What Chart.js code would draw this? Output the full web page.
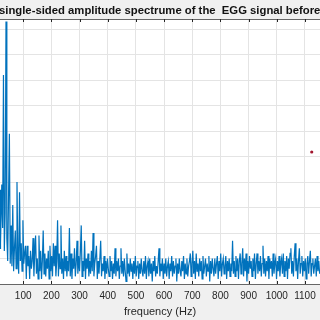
<!DOCTYPE html>
<html lang="en">
<head>
  <meta charset="UTF-8" />
  <title>EGG single-sided amplitude spectrum</title>
  <script src="https://cdn.jsdelivr.net/npm/chart.js"></script>
  <style>
    html, body {
      margin: 0;
      padding: 0;
      background: #f0f0f0;
      overflow: hidden;
    }
    #wrap { position: relative; width: 320px; height: 320px; }
  </style>
</head>
<body>
  <div id="wrap"><canvas id="spec" width="320" height="320"></canvas></div>

  <script>
    const titleText = 'single-sided amplitude spectrume of the  EGG signal before';
    const xLabel = 'frequency (Hz)';
    const xTicks = [100, 200, 300, 400, 500, 600, 700, 800, 900, 1000, 1100];
    const yGrid = [0, 1, 2, 3, 4, 5, 6, 7, 8, 9, 10];

    // frequency bins are 3 Hz apart, starting at 0 Hz
    const freqStep = 3;
    const amplitude = [
      2.0, 1.2, 2.5, 1.0, 3.0, 1.4, 3.7, 1.6, 3.9, 2.2, 8.2, 1.3, 2.8, 10.3, 1.8, 0.9, 3.4, 5.9, 0.8, 2.3,
      0.7, 3.1, 0.5, 1.4, 2.1, 0.6, 4.0, 1.1, 0.4, 3.6, 0.9, 1.6, 0.5, 2.5, 0.8, 1.2, 1.5, 0.2, 1.5, 0.7,
      1.1, 0.2, 1.3, 0.6, 0.9, 1.8, 0.3, 1.2, 1.9, 0.4, 1.0, 0.2, 1.9, 0.5, 1.3, 0.2, 0.9, 2.1, 0.4, 1.2,
      0.3, 1.0, 0.6, 1.3, 0.2, 1.5, 0.5, 1.1, 0.3, 1.6, 0.7, 1.5, 0.3, 0.9, 2.5, 0.3, 1.2, 0.6, 2.3, 0.4,
      1.0, 0.2, 1.3, 0.5, 1.1, 0.3, 0.9, 0.5, 2.2, 0.3, 1.2, 0.2, 1.0, 0.6, 1.4, 0.3, 0.8, 1.7, 0.4, 1.1,
      0.5, 1.3, 2.3, 0.3, 0.9, 0.5, 1.7, 0.2, 1.0, 0.6, 1.2, 0.3, 0.9, 0.4, 1.3, 0.5, 2.0, 0.3, 0.8, 1.1,
      1.5, 0.2, 0.9, 0.4, 1.0, 1.7, 0.3, 0.8, 0.5, 1.1, 0.2, 0.9, 0.4, 1.0, 0.6, 0.3, 1.1, 0.5, 0.9, 0.2,
      0.8, 0.4, 1.4, 0.3, 0.9, 0.5, 1.0, 0.2, 0.7, 1.4, 0.4, 0.9, 0.3, 1.0, 0.5, 0.1, 1.2, 0.4, 0.8, 0.3,
      1.0, 0.5, 0.8, 0.2, 0.9, 0.4, 1.1, 0.3, 0.7, 0.9, 0.2, 0.8, 0.4, 1.0, 0.5, 0.3, 0.9, 0.4, 1.1, 0.2,
      0.7, 0.9, 0.3, 1.0, 0.4, 0.8, 0.1, 0.9, 0.5, 1.1, 0.3, 0.7, 0.4, 0.9, 1.4, 0.3, 0.8, 0.5, 1.0, 0.2,
      0.8, 0.4, 1.0, 0.3, 0.7, 0.9, 0.2, 0.8, 0.5, 1.1, 0.3, 0.9, 0.4, 0.7, 1.0, 0.1, 0.8, 0.4, 1.0, 0.5,
      0.3, 0.9, 0.5, 1.1, 0.2, 0.8, 0.4, 1.0, 0.3, 0.7, 0.9, 1.2, 0.3, 0.8, 1.3, 0.4, 0.9, 0.2, 1.2, 0.5,
      0.8, 0.3, 1.0, 0.5, 0.9, 0.2, 1.1, 0.4, 0.7, 1.0, 0.3, 0.8, 0.5, 1.1, 0.1, 0.9, 0.4, 1.0, 0.6, 0.3,
      1.0, 0.4, 0.8, 1.1, 0.2, 0.9, 0.5, 1.2, 0.3, 0.8, 1.0, 0.4, 0.7, 1.1, 0.2, 0.9, 0.5, 1.0, 0.3, 0.8,
      0.5, 1.7, 0.4, 0.9, 0.3, 1.1, 0.5, 1.0, 0.2, 0.9, 1.2, 0.4, 0.8, 1.4, 0.3, 1.0, 0.5, 1.2, 0.1, 0.9,
      0.4, 1.1, 0.6, 0.9, 0.3, 1.0, 0.5, 1.2, 0.2, 0.8, 1.2, 0.4, 0.9, 0.5, 1.1, 0.3, 0.8, 1.5, 0.4, 1.0,
      0.3, 0.9, 0.5, 1.1, 0.2, 1.0, 0.6, 0.9, 0.3, 1.2, 0.4, 0.8, 1.0, 0.2, 0.9, 0.5, 1.1, 0.3, 0.8, 1.0,
      0.4, 1.2, 0.3, 0.9, 0.5, 1.1, 0.2, 1.0, 0.6, 1.2, 1.4, 0.4, 0.9, 0.3, 1.1, 1.6, 0.5, 1.0, 0.2, 0.9,
      1.4, 0.4, 0.8, 1.1, 0.3, 0.9, 0.5, 1.0, 0.2, 0.8, 1.1, 0.4, 0.9, 1.3, 0.3, 0.8, 1.0, 0.4, 0.7, 1.0,
      0.3, 1.1, 0.5, 0.9, 0.4
    ];
    const markerFreq = [1124];
    const markerAmp = [5.18];

    const specPoints = amplitude.map((v, i) => ({ x: i * freqStep, y: v }));
    const markerPoints = markerFreq.map((f, i) => ({ x: f, y: markerAmp[i] }));

    // white axes box, MATLAB style frame with inward ticks, and the clipped title
    const frame = {
      id: 'frame',
      beforeDraw(chart) {
        const { ctx, chartArea: a } = chart;
        ctx.save();
        ctx.fillStyle = '#ffffff';
        ctx.fillRect(a.left, a.top, a.right - a.left, a.bottom - a.top);
        ctx.fillStyle = '#111111';
        ctx.font = 'bold 11.3px "Liberation Sans", Arial, sans-serif';
        ctx.textBaseline = 'alphabetic';
        ctx.fillText(titleText, -1, 14);
        ctx.restore();
      },
      afterDraw(chart) {
        const { ctx, chartArea: a } = chart;
        const xs = chart.scales.x;
        ctx.save();
        ctx.strokeStyle = '#666666';
        ctx.lineWidth = 1;
        ctx.beginPath();
        ctx.moveTo(a.left, a.top + 0.5);
        ctx.lineTo(a.right, a.top + 0.5);
        ctx.stroke();
        ctx.strokeStyle = '#262626';
        ctx.beginPath();
        xTicks.forEach(v => {
          const px = Math.round(xs.getPixelForValue(v)) + 0.5;
          ctx.moveTo(px, a.top);
          ctx.lineTo(px, a.top + 3);
          ctx.moveTo(px, a.bottom);
          ctx.lineTo(px, a.bottom - 3);
        });
        ctx.stroke();
        ctx.restore();
      }
    };

    new Chart(document.getElementById('spec'), {
      type: 'line',
      data: {
        datasets: [
          {
            label: 'spectrum',
            data: specPoints,
            borderColor: '#0072BD',
            borderWidth: 1.2,
            pointRadius: 0,
            tension: 0,
            fill: false
          },
          {
            type: 'scatter',
            label: 'marker',
            data: markerPoints,
            backgroundColor: '#a3162e',
            borderWidth: 0,
            pointRadius: 1.6
          }
        ]
      },
      options: {
        responsive: false,
        animation: false,
        devicePixelRatio: 1,
        layout: { autoPadding: false, padding: { top: 19, left: 0, right: 0, bottom: 0 } },
        plugins: {
          legend: { display: false },
          tooltip: { enabled: false },
          title: { display: false }
        },
        scales: {
          x: {
            type: 'linear',
            min: 17.7,
            max: 1153.3,
            afterBuildTicks: s => { s.ticks = xTicks.map(v => ({ value: v })); },
            afterFit: s => {
              s.height = 36;
              s.paddingLeft = 0;
              s.paddingRight = 0;
            },
            grid: { color: '#e4e4e4', drawTicks: false },
            border: { color: '#666666', width: 1 },
            ticks: {
              color: '#262626',
              font: { family: '"Liberation Sans", Arial, sans-serif', size: 10 },
              padding: 6,
              maxRotation: 0,
              autoSkip: false,
              callback: v => String(v)
            },
            title: {
              display: true,
              text: xLabel,
              color: '#262626',
              font: { family: '"Liberation Sans", Arial, sans-serif', size: 11 },
              padding: { top: 2, bottom: 1 }
            }
          },
          y: {
            min: 0,
            max: 10.4,
            afterBuildTicks: s => { s.ticks = yGrid.map(v => ({ value: v })); },
            afterFit: s => { s.width = 0; },
            grid: { color: '#e4e4e4', drawTicks: false },
            border: { display: false },
            ticks: { display: false }
          }
        }
      },
      plugins: [frame]
    });
  </script>
</body>
</html>
